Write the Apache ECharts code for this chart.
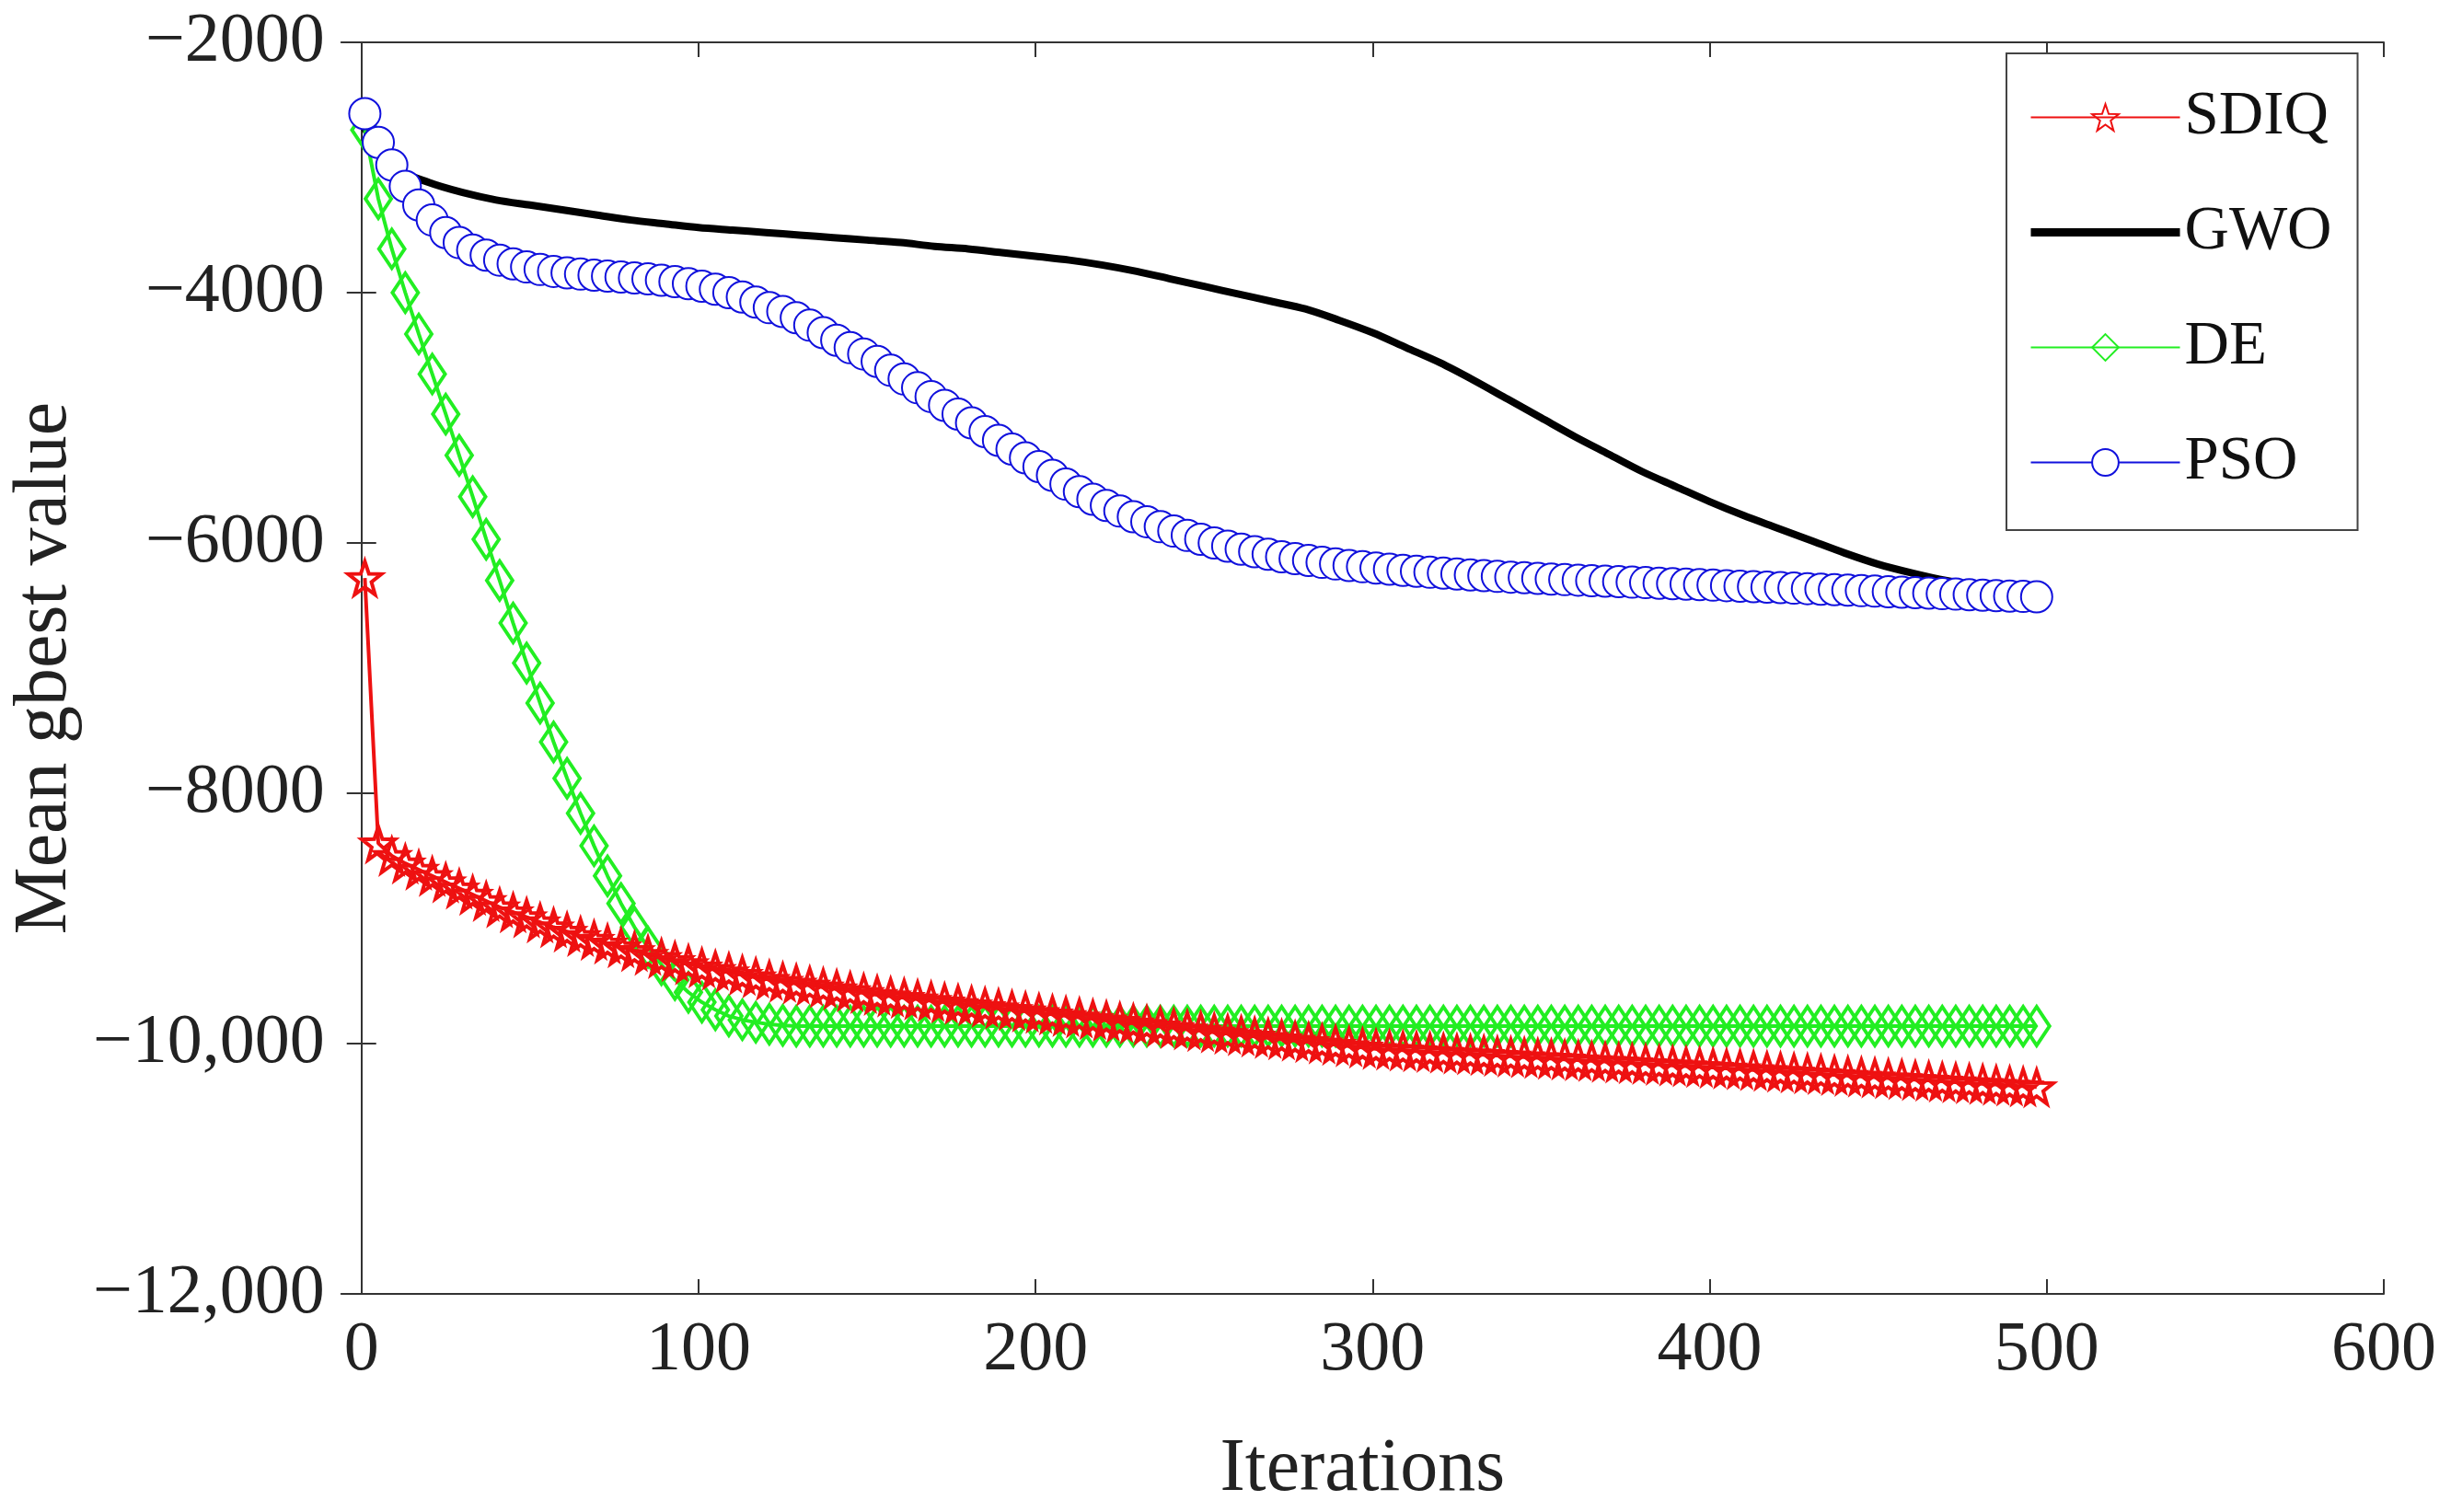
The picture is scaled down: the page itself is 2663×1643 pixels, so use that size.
<!DOCTYPE html>
<html>
<head>
<meta charset="utf-8">
<script src="https://cdn.jsdelivr.net/npm/echarts@6/dist/echarts.min.js"></script>
<style>html,body{margin:0;background:#fff}#main{width:2663px;height:1643px}</style>
</head>
<body>
<div id="main"></div>
<script>
// iterations 1:4:497 (MATLAB style marker sampling)
var sampleStart = 1, sampleStep = 4;

var sdiqVals = [
	-6280,-8400,-8500,-8560,-8610,-8660,-8710,-8760,-8810,-8860,
	-8910,-8950,-8990,-9030,-9070,-9105,-9140,-9170,-9200,-9230,
	-9260,-9290,-9315,-9340,-9365,-9390,-9410,-9430,-9450,-9470,
	-9490,-9505,-9520,-9535,-9550,-9565,-9580,-9595,-9610,-9622,
	-9634,-9646,-9658,-9670,-9682,-9694,-9706,-9718,-9730,-9742,
	-9754,
	-9766,-9778,-9790,-9802,-9814,-9826,-9838,-9850,-9862,-9874,
	-9886,-9898,-9910,-9921,-9932,-9943,-9954,-9965,-9976,-9987,
	-9998,-10009,-10020,-10031,
	-10042,
	-10048,-10054,-10060,-10066,-10072,-10078,-10084,-10090,-10096,-10102,
	-10108,-10114,-10120,-10126,-10132,-10138,-10144,-10150,-10156,-10162,
	-10168,-10174,-10180,-10186,-10192,
	-10198,-10204,-10211,-10217,-10224,-10230,-10237,-10243,-10250,-10256,
	-10263,-10269,-10276,-10282,-10289,-10295,-10302,-10308,-10315,-10321,
	-10328,-10334,-10341,-10348
];

var deVals = [
	-2700,-3250,-3650,-4000,-4330,-4650,-4970,-5300,-5630,-5970,
	-6300,-6640,-6960,-7280,-7590,-7880,-8160,-8420,-8660,-8880,
	-9070,-9230,-9370,-9490,-9590,-9670,-9730,-9780,-9810,-9830,
	-9845,-9855,-9860,
	-9860,-9860,-9860,-9860,-9860,-9860,-9860,-9860,-9860,-9860,
	-9860,-9860,-9860,-9860,-9860,-9860,-9860,-9860,-9860,-9860,
	-9860,-9860,-9860,-9860,-9860,-9860,-9860,-9860,-9860,-9860,
	-9860,-9860,-9860,-9860,-9860,-9860,-9860,-9860,-9860,-9860,
	-9860,-9860,-9860,-9860,-9860,-9860,-9860,-9860,-9860,-9860,
	-9860,-9860,-9860,-9860,-9860,-9860,-9860,-9860,-9860,-9860,
	-9860,-9860,-9860,-9860,-9860,-9860,-9860,-9860,-9860,-9860,
	-9860,-9860,-9860,-9860,-9860,-9860,-9860,-9860,-9860,-9860,
	-9860,-9860,-9860,-9860,-9860,-9860,-9860,-9860,-9860,-9860,
	-9860,-9860
];

var psoVals = [
	-2570,-2800,-2980,-3150,-3300,-3420,-3520,-3600,-3660,-3700,-3740,
	-3770,-3795,-3815,-3830,-3842,-3852,-3860,-3868,-3875,-3882,
	-3890,-3900,-3912,-3928,-3948,-3972,-4000,-4035,-4075,-4120,
	-4150,-4200,-4260,-4320,-4380,-4440,-4490,-4550,-4620,-4690,
	-4760,-4830,-4900,-4970,-5040,-5110,-5180,-5250,-5320,-5390,
	-5460,-5530,-5590,-5650,-5700,-5745,-5790,-5830,-5870,-5905,
	-5940,-5970,-6000,-6025,-6050,-6070,-6090,-6110,-6125,-6140,
	-6155,-6168,-6180,-6190,-6200,-6210,-6218,-6226,-6234,-6241,
	-6248,-6255,-6261,-6267,-6273,-6278,-6283,-6288,-6293,-6297,
	-6301,-6305,-6309,-6313,-6317,-6321,-6325,-6329,-6333,-6337,
	-6341,-6345,-6349,-6353,-6357,-6361,-6365,-6369,-6373,-6377,
	-6381,-6385,-6389,-6393,-6397,-6401,-6405,-6409,-6413,-6417,
	-6421,-6424,-6427,-6430
];

// GWO has no markers, read every 10 iterations
var gwoIters = [0,10,20,30,40,50,60,70,80,90,100,110,120,130,140,150,160,170,180,190,200,
	210,220,230,240,250,260,270,280,290,300,310,320,330,340,350,360,370,380,390,400,
	410,420,430,440,450,460,470,480,490,500];
var gwoVals = [-2650,-3000,-3120,-3200,-3260,-3300,-3340,-3380,-3420,-3450,-3480,
	-3500,-3520,-3540,-3560,-3580,-3600,-3630,-3650,-3680,-3710,
	-3740,-3780,-3830,-3890,-3950,-4010,-4070,-4130,-4220,-4320,
	-4440,-4560,-4700,-4850,-5000,-5150,-5290,-5430,-5550,-5670,
	-5780,-5880,-5980,-6080,-6170,-6240,-6300,-6340,-6370,-6400];

var xTicks = [0,100,200,300,400,500,600];
var yTickLabels = {'-2000':'\u22122000','-4000':'\u22124000','-6000':'\u22126000','-8000':'\u22128000','-10000':'\u221210,000','-12000':'\u221212,000'};

var fontName = 'Liberation Serif';
var starPath = 'path://M0,-10 L2.35,-3.24 L9.51,-3.09 L3.8,1.24 L5.88,8.09 L0,4 L-5.88,8.09 L-3.8,1.24 L-9.51,-3.09 L-2.35,-3.24 Z';

function sampled(vals) {
	return vals.map(function(v, i) { return [sampleStart + sampleStep * i, v]; });
}

var axisLine = { lineStyle : { color : '#333', width : 2 } };

var myChart = echarts.init(document.getElementById('main'));
var option = {
	backgroundColor : '#fff',
	animation : false,
	grid : { left : 348, right : 73, top : 46, bottom : 220 },
	legend : {
		orient : 'vertical',
		left : 2180,
		top : 58,
		padding : [36, 28, 40, 22],
		itemGap : 58,
		itemWidth : 162,
		itemHeight : 36,
		borderColor : '#444',
		borderWidth : 2,
		backgroundColor : '#fff',
		textStyle : { fontFamily : fontName, fontSize : 67, color : '#111' },
		data : [
			'SDIQ',
			{ name : 'GWO', itemStyle : { opacity : 0 }, lineStyle : { width : 9, color : '#000' } },
			'DE',
			'PSO'
		]
	},
	xAxis : [{
		type : 'value',
		min : -6,
		max : 600,
		name : 'Iterations',
		nameLocation : 'middle',
		nameGap : 150,
		nameTextStyle : { fontFamily : fontName, fontSize : 82, color : '#222' },
		axisLine : axisLine,
		axisTick : { inside : true, length : 16, customValues : xTicks, lineStyle : { color : '#333', width : 2 } },
		axisLabel : { customValues : xTicks, fontFamily : fontName, fontSize : 76, color : '#222', margin : 24 },
		splitLine : { show : false }
	}, {
		type : 'value',
		position : 'top',
		min : -6,
		max : 600,
		axisLine : axisLine,
		axisTick : { inside : true, length : 16, customValues : xTicks, lineStyle : { color : '#333', width : 2 } },
		axisLabel : { show : false },
		splitLine : { show : false }
	}],
	yAxis : [{
		type : 'value',
		min : -12000,
		max : -2000,
		interval : 2000,
		name : 'Mean gbest value',
		nameLocation : 'middle',
		nameGap : 262,
		nameTextStyle : { fontFamily : fontName, fontSize : 82, color : '#222' },
		axisLine : { show : true, lineStyle : { color : '#333', width : 2 } },
		axisTick : { show : true, inside : true, length : 16, lineStyle : { color : '#333', width : 2 } },
		axisLabel : {
			fontFamily : fontName, fontSize : 76, color : '#222', margin : 18,
			formatter : function(v) { return yTickLabels[String(v)] || String(v); }
		},
		splitLine : { show : false }
	}, {
		type : 'value',
		position : 'right',
		min : -12000,
		max : -2000,
		interval : 2000,
		axisLine : { show : true, lineStyle : { color : '#333', width : 2 } },
		axisTick : { show : true, inside : true, length : 16, lineStyle : { color : '#333', width : 2 } },
		axisLabel : { show : false },
		splitLine : { show : false }
	}],
	series : [{
		name : 'SDIQ',
		type : 'line',
		data : sampled(sdiqVals),
		symbol : starPath,
		symbolSize : 36,
		lineStyle : { color : '#ee1111', width : 4 },
		itemStyle : { color : 'rgba(255,255,255,0)', borderColor : '#ee1111', borderWidth : 4 },
		z : 4
	}, {
		name : 'GWO',
		type : 'line',
		data : gwoIters.map(function(x, i) { return [x, gwoVals[i]]; }),
		smooth : 0.3,
		showSymbol : false,
		symbol : 'none',
		lineStyle : { color : '#000', width : 8 },
		itemStyle : { color : '#000' },
		z : 2
	}, {
		name : 'DE',
		type : 'line',
		data : sampled(deVals),
		symbol : 'diamond',
		symbolSize : [28, 42],
		lineStyle : { color : '#22ee22', width : 4 },
		itemStyle : { color : 'rgba(255,255,255,0)', borderColor : '#22ee22', borderWidth : 4 },
		z : 3
	}, {
		name : 'PSO',
		type : 'line',
		data : sampled(psoVals),
		symbol : 'emptyCircle',
		symbolSize : 34,
		lineStyle : { color : '#1111dd', width : 4 },
		itemStyle : { color : '#1111dd', borderColor : '#1111dd', borderWidth : 4 },
		z : 5
	}]
};
myChart.setOption(option);
</script>
</body>
</html>
